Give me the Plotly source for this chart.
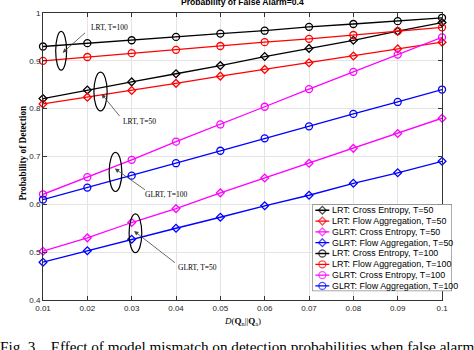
import plotly.graph_objects as go

# ---------------- data ----------------
x_vals = [0.01, 0.02, 0.03, 0.04, 0.05, 0.06, 0.07, 0.08, 0.09, 0.10]
x_ticks = [0.01, 0.02, 0.03, 0.04, 0.05, 0.06, 0.07, 0.08, 0.09, 0.10]
x_ticktext = ["0.01", "0.02", "0.03", "0.04", "0.05", "0.06", "0.07", "0.08", "0.09", "0.1"]
y_ticks = [0.4, 0.5, 0.6, 0.7, 0.8, 0.9, 1.0]
y_ticktext = ["0.4", "0.5", "0.6", "0.7", "0.8", "0.9", "1"]

lrt_ce_50 = [0.821, 0.839, 0.856, 0.873, 0.890, 0.909, 0.926, 0.943, 0.962, 0.980]
lrt_fa_50 = [0.810, 0.824, 0.838, 0.853, 0.868, 0.882, 0.896, 0.910, 0.925, 0.939]
glrt_ce_50 = [0.502, 0.530, 0.562, 0.591, 0.624, 0.655, 0.686, 0.717, 0.748, 0.780]
glrt_fa_50 = [0.479, 0.503, 0.527, 0.550, 0.573, 0.597, 0.619, 0.644, 0.666, 0.690]
lrt_ce_100 = [0.930, 0.937, 0.943, 0.950, 0.957, 0.963, 0.971, 0.977, 0.983, 0.990]
lrt_fa_100 = [0.900, 0.908, 0.916, 0.923, 0.931, 0.939, 0.946, 0.954, 0.962, 0.970]
glrt_ce_100 = [0.621, 0.657, 0.693, 0.731, 0.767, 0.804, 0.841, 0.877, 0.913, 0.949]
glrt_fa_100 = [0.610, 0.635, 0.660, 0.686, 0.712, 0.738, 0.763, 0.789, 0.814, 0.840]

series_names = [
    "LRT: Cross Entropy, T=50",
    "LRT: Flow Aggregation, T=50",
    "GLRT: Cross Entropy, T=50",
    "GLRT: Flow Aggregation, T=50",
    "LRT: Cross Entropy, T=100",
    "LRT: Flow Aggregation, T=100",
    "GLRT: Cross Entropy, T=100",
    "GLRT: Flow Aggregation, T=100",
]
series_values = [lrt_ce_50, lrt_fa_50, glrt_ce_50, glrt_fa_50,
                 lrt_ce_100, lrt_fa_100, glrt_ce_100, glrt_fa_100]
series_colors = ["#000000", "#ff0000", "#ff00ff", "#0000ff",
                 "#000000", "#ff0000", "#ff00ff", "#0000ff"]
series_symbols = ["diamond-open"] * 4 + ["circle-open"] * 4

# group annotations: label, text pos, ellipse box, arrow tail, arrow head (data coords)
group_labels = ["LRT, T=100", "LRT, T=50", "GLRT, T=100", "GLRT, T=50"]
label_pos = [(0.02508, 0.9705), (0.03183, 0.7732), (0.0379, 0.6212), (0.04488, 0.4686)]
ellipse_box = [(0.01286, 0.8804, 0.01533, 0.9614),
               (0.02148, 0.7952, 0.02447, 0.8763),
               (0.02492, 0.6268, 0.02778, 0.7087),
               (0.02942, 0.4989, 0.03228, 0.5800)]
arrow_tail = [(0.01983, 0.9614), (0.02755, 0.7814), (0.03333, 0.6282), (0.04008, 0.4756)]
arrow_head = [(0.01443, 0.9169), (0.02321, 0.8309), (0.0262, 0.6748), (0.03054, 0.5443)]

# ---------------- figure ----------------
fig = go.Figure()

for name, vals, col, sym in zip(series_names, series_values, series_colors, series_symbols):
    fig.add_trace(go.Scatter(
        x=x_vals, y=vals, name=name, mode="lines+markers",
        line=dict(color=col, width=1.3),
        marker=dict(symbol=sym, size=7 if "circle" in sym else 6,
                    color=col, line=dict(color=col, width=1.3)),
        cliponaxis=False, showlegend=False, xaxis="x", yaxis="y",
    ))

# custom legend (overlay axes in pixel-like units)
LEG_W, LEG_H = 140, 88
fig.add_trace(go.Scatter(
    x=[0, LEG_W, LEG_W, 0, 0], y=[0, 0, LEG_H, LEG_H, 0],
    mode="lines", fill="toself", fillcolor="white",
    line=dict(color="#333333", width=0.8), cliponaxis=False,
    showlegend=False, hoverinfo="skip", xaxis="x2", yaxis="y2",
))
row_h = 10.96
annotations = []
for i, (name, col, sym) in enumerate(zip(series_names, series_colors, series_symbols)):
    yy = 6 + row_h * i
    fig.add_trace(go.Scatter(
        x=[3, 10, 17], y=[yy, yy, yy], mode="lines+markers",
        line=dict(color=col, width=1.3),
        marker=dict(symbol=sym, size=[0, 7 if "circle" in sym else 6, 0],
                    color=col, line=dict(color=col, width=1.3)),
        cliponaxis=False, showlegend=False, hoverinfo="skip",
        xaxis="x2", yaxis="y2",
    ))
    annotations.append(dict(
        x=17.5, y=yy, xref="x2", yref="y2", text=name, showarrow=False,
        xanchor="left", yanchor="middle",
        font=dict(family="Liberation Sans", size=8.9, color="black"),
    ))

shapes = []
for lab, (tx, ty), (x0, y0, x1, y1), (ax_, ay_), (hx, hy) in zip(
        group_labels, label_pos, ellipse_box, arrow_tail, arrow_head):
    shapes.append(dict(type="circle", xref="x", yref="y", x0=x0, y0=y0, x1=x1, y1=y1,
                       line=dict(color="black", width=1.2)))
    annotations.append(dict(x=tx, y=ty, xref="x", yref="y", text=lab, showarrow=False,
                            xanchor="center", yanchor="middle",
                            font=dict(family="Liberation Serif", size=7.5, color="black")))
    annotations.append(dict(x=hx, y=hy, xref="x", yref="y", ax=ax_, ay=ay_,
                            axref="x", ayref="y", text="", showarrow=True,
                            arrowhead=2, arrowsize=1.1, arrowwidth=0.8,
                            arrowcolor="#444444"))

# title, axis labels, caption
annotations.append(dict(x=0.4796, y=1.0137, xref="paper", yref="paper",
                        text="<b>Probability of False Alarm=0.4</b>", showarrow=False,
                        xanchor="center", yanchor="bottom",
                        font=dict(family="Liberation Sans", size=8.6, color="black")))
annotations.append(dict(x=0.4796, y=-0.0756, xref="paper", yref="paper",
                        text="<i>D</i>(<b>Q</b><sub>n</sub>||<b>Q</b><sub>a</sub>)",
                        showarrow=False, xanchor="center", yanchor="middle",
                        font=dict(family="Liberation Serif", size=9, color="black")))
annotations.append(dict(x=-0.048, y=0.5137, xref="paper", yref="paper",
                        text="<b>Probability of Detection</b>", showarrow=False,
                        textangle=-90, xanchor="center", yanchor="middle",
                        font=dict(family="Liberation Serif", size=9.3, color="black")))
annotations.append(dict(x=-0.1079, y=-0.163, xref="paper", yref="paper",
                        text="Fig. 3.&nbsp;&nbsp;&nbsp;Effect of model mismatch on detection probabilities when false alarm",
                        showarrow=False, xanchor="left", yanchor="middle",
                        font=dict(family="Liberation Serif", size=15.2, color="black")))

axis_common = dict(
    ticks="inside", ticklen=4, tickcolor="#333333", tickwidth=1,
    showline=True, linecolor="#333333", linewidth=1, mirror="ticks",
    showgrid=True, gridcolor="#e4e4e4", gridwidth=1, zeroline=False,
    tickfont=dict(family="Liberation Sans", size=8, color="#262626"),
)

fig.update_layout(
    width=474, height=350,
    margin=dict(l=43, r=14, t=9, b=50),
    paper_bgcolor="white", plot_bgcolor="white",
    showlegend=False,
    xaxis=dict(domain=[0, 400 / 417], range=[0.01, 0.10], tickvals=x_ticks,
               ticktext=x_ticktext, anchor="y", **axis_common),
    yaxis=dict(domain=[0, 1], range=[0.4, 1.0], tickvals=y_ticks,
               ticktext=y_ticktext, anchor="x", **axis_common),
    xaxis2=dict(domain=[0.6475, 0.9832], range=[0, LEG_W], visible=False,
                anchor="y2", fixedrange=True),
    yaxis2=dict(domain=[0.0309, 0.3333], range=[LEG_H, 0], visible=False,
                anchor="x2", fixedrange=True),
    shapes=shapes,
    annotations=annotations,
)

fig.write_html("out.html")
